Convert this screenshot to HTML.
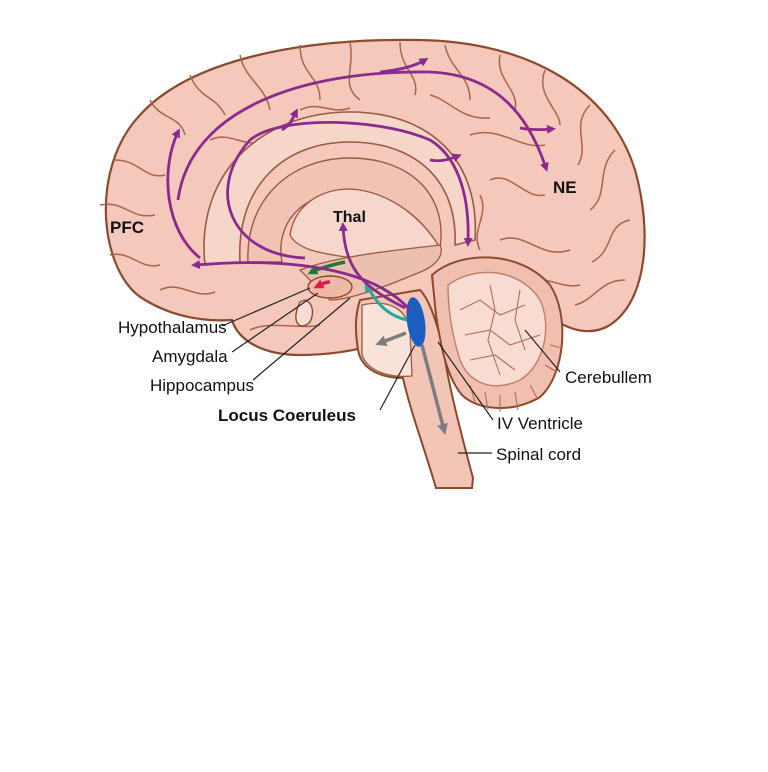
<!DOCTYPE html>
<html><head><meta charset="utf-8"><style>
html,body{margin:0;padding:0;background:#fff;}
svg{display:block;}
text{font-family:"Liberation Sans",Arial,sans-serif;fill:#111;}
</style></head><body>
<svg width="768" height="772" viewBox="0 0 768 772" xmlns="http://www.w3.org/2000/svg">
<defs>
<marker id="ap" markerWidth="9" markerHeight="9" refX="5" refY="4.5" orient="auto" markerUnits="userSpaceOnUse"><path d="M0,0 L9,4.5 L0,9 z" fill="#8a2a8e"/></marker>
<marker id="ag" markerWidth="11" markerHeight="11" refX="6" refY="5.5" orient="auto" markerUnits="userSpaceOnUse"><path d="M0,0 L11,5.5 L0,11 z" fill="#7d7d80"/></marker>
<marker id="agr" markerWidth="10" markerHeight="10" refX="5" refY="5" orient="auto" markerUnits="userSpaceOnUse"><path d="M0,0 L10,5 L0,10 z" fill="#1f7a3a"/></marker>
<marker id="ar" markerWidth="10" markerHeight="10" refX="5" refY="5" orient="auto" markerUnits="userSpaceOnUse"><path d="M0,0 L10,5 L0,10 z" fill="#d8204f"/></marker>
<marker id="at" markerWidth="10" markerHeight="10" refX="5" refY="5" orient="auto" markerUnits="userSpaceOnUse"><path d="M0,0 L10,5 L0,10 z" fill="#2aa89a"/></marker>
</defs>
<!-- cerebrum -->
<path d="M145,300 C100,275 88,170 140,115 C190,60 300,38 420,40 C530,42 610,90 635,170 C652,230 648,300 610,325 C585,340 560,325 540,310 L450,305 C420,335 360,355 300,355 C262,355 238,340 232,320 C200,322 170,315 145,300 Z" fill="#f4c8bb" stroke="#8b4a2e" stroke-width="2.2"/>
<!-- gyri -->
<g fill="none" stroke="#a8644e" stroke-width="1.5">
<path d="M190,75 C200,100 215,95 225,115"/><path d="M240,55 C245,80 265,85 270,110"/>
<path d="M300,45 C300,75 320,75 320,100"/><path d="M350,42 C355,70 340,85 360,100"/>
<path d="M400,42 C400,70 420,75 415,95"/><path d="M445,45 C450,70 470,75 470,100"/>
<path d="M500,55 C495,80 520,90 515,110"/><path d="M545,70 C535,95 560,110 560,125"/>
<path d="M590,105 C570,125 590,145 578,165"/><path d="M615,150 C595,170 610,195 590,210"/>
<path d="M630,220 C605,225 615,250 592,262"/><path d="M625,280 C600,280 595,300 575,305"/>
<path d="M115,160 C140,160 145,180 165,175"/><path d="M100,205 C125,200 130,220 155,215"/>
<path d="M110,255 C130,250 140,270 160,265"/><path d="M150,100 C160,120 180,115 185,135"/>
<path d="M470,135 C500,125 520,150 545,145"/><path d="M490,180 C510,170 525,200 545,195"/>
<path d="M500,240 C525,230 540,260 570,250"/><path d="M520,285 C540,270 560,290 580,285"/>
<path d="M480,250 C470,230 490,215 480,195"/><path d="M430,95 C450,100 460,120 490,118"/>
<path d="M210,140 C230,130 245,150 265,140"/><path d="M300,110 C320,100 330,115 350,108"/>
<path d="M250,330 C270,320 300,330 320,325"/><path d="M160,290 C180,280 195,300 215,292"/>
</g>
<!-- cingulate / corpus callosum -->
<path d="M205,265 C195,170 265,112 350,112 C430,112 480,160 475,240 L455,245 C458,180 415,142 350,142 C285,142 236,185 240,262 Z" fill="#f7d6ca" stroke="#9a5a42" stroke-width="1.6"/>
<path d="M248,262 C245,200 290,158 350,158 C410,158 448,195 440,248 C420,215 390,192 350,192 C300,192 275,225 282,262 Z" fill="#f2c3b5" stroke="#9a5a42" stroke-width="1.4"/>
<path d="M290,235 C295,200 330,185 360,190 C390,195 420,215 440,248 C420,260 400,265 380,262 C340,255 300,255 290,235 Z" fill="#f7d6cb" stroke="#9a5a42" stroke-width="1.3"/>
<!-- fornix band -->
<path d="M300,270 C340,255 400,250 440,245 C445,255 435,265 425,270 C390,285 350,300 330,300 Z" fill="#ecc0b0" stroke="#9a5a42" stroke-width="1.3"/>
<!-- hypothalamus/amygdala -->
<ellipse cx="330" cy="287" rx="22" ry="11" fill="#f0b8a8" stroke="#8b4a2e" stroke-width="1.4"/>
<path d="M300,302 C290,322 300,332 310,322 C315,312 312,302 305,300 Z" fill="#f7ddd4" stroke="#8b4a2e" stroke-width="1.4"/>
<!-- brainstem -->
<path d="M360,300 L420,290 C430,300 440,330 445,360 C450,390 460,430 473,478 L472,488 L436,488 C425,450 410,410 403,378 C385,378 362,372 358,350 C355,330 355,315 360,300 Z" fill="#f3c5b7" stroke="#8b4a2e" stroke-width="2"/>
<path d="M362,305 C385,300 405,305 410,330 L412,376 C390,378 368,372 362,355 Z" fill="#f9e2da" stroke="#9a5a42" stroke-width="1.3"/>
<!-- cerebellum -->
<path d="M432,275 C460,250 520,250 550,285 C570,315 565,375 540,397 C515,412 480,412 462,395 C445,375 440,340 436,315 Z" fill="#f1bfb0" stroke="#8b4a2e" stroke-width="2"/>
<path d="M448,285 C475,265 520,268 540,300 C552,325 545,365 520,380 C495,392 470,385 460,360 C452,335 448,310 448,285 Z" fill="#f8dcd2" stroke="#c07e6a" stroke-width="1.4"/>
<g stroke="#b06d58" stroke-width="1.1" fill="none">
<path d="M460,310 L480,300 L500,315 L525,305"/><path d="M465,335 L490,330 L510,345 L540,335"/><path d="M470,360 L495,355 L515,370"/>
<path d="M490,285 L495,310 L488,340 L500,375"/><path d="M520,290 L515,320 L525,350"/>
<path d="M470,385 L475,402"/><path d="M485,392 L488,410"/><path d="M500,395 L500,412"/><path d="M515,392 L518,410"/><path d="M530,385 L538,400"/><path d="M545,365 L557,372"/><path d="M550,345 L562,348"/>
</g>
<!-- locus coeruleus -->
<ellipse cx="416" cy="322" rx="9" ry="25" fill="#1a5fc0" transform="rotate(-8 416 322)"/>
<!-- gray arrows -->
<path d="M406,333 L380,343" stroke="#7d7d80" stroke-width="3.5" fill="none" marker-end="url(#ag)"/>
<path d="M422,345 L444,430" stroke="#7d7d80" stroke-width="3.5" fill="none" marker-end="url(#ag)"/>
<!-- colored short arrows -->
<path d="M345,262 C335,264 320,268 312,272" stroke="#1f7a3a" stroke-width="3.5" fill="none" marker-end="url(#agr)"/>
<path d="M330,282 C325,282 322,284 318,286" stroke="#d8204f" stroke-width="3.5" fill="none" marker-end="url(#ar)"/>
<path d="M407,320 C385,315 375,300 367,286" stroke="#2aa89a" stroke-width="3" fill="none" marker-end="url(#at)"/>
<!-- purple NE arrows -->
<g stroke="#8a2a8e" stroke-width="2.8" fill="none">
<path d="M410,310 C370,265 280,258 195,265" marker-end="url(#ap)"/>
<path d="M200,258 C165,230 160,170 178,132" marker-end="url(#ap)"/>
<path d="M178,200 C190,110 300,70 430,72 C500,75 530,120 546,168" marker-end="url(#ap)"/>
<path d="M380,72 C400,70 415,66 425,60" marker-end="url(#ap)"/>
<path d="M520,128 C530,130 540,130 552,129" marker-end="url(#ap)"/>
<path d="M305,258 C230,255 205,190 250,140 C280,115 380,118 430,140 C455,155 470,190 468,243" marker-end="url(#ap)"/>
<path d="M282,130 C290,125 292,120 296,112" marker-end="url(#ap)"/>
<path d="M430,160 C440,162 448,160 458,156" marker-end="url(#ap)"/>
<path d="M405,308 C370,290 345,275 343,226" marker-end="url(#ap)"/>
</g>
<!-- leader lines -->
<g stroke="#222" stroke-width="1.2" fill="none">
<path d="M222,326 L310,288"/><path d="M232,352 L318,293"/><path d="M253,380 L350,298"/>
<path d="M380,410 L415,345"/><path d="M560,372 L525,330"/><path d="M493,420 L438,342"/><path d="M492,453 L458,453"/>
</g>
<text x="110" y="233" font-size="17" font-weight="bold">PFC</text>
<text x="333" y="222" font-size="16" font-weight="bold">Thal</text>
<text x="553" y="193" font-size="17" font-weight="bold">NE</text>
<text x="118" y="333" font-size="17">Hypothalamus</text>
<text x="152" y="362" font-size="17">Amygdala</text>
<text x="150" y="391" font-size="17">Hippocampus</text>
<text x="218" y="421" font-size="17" font-weight="bold">Locus Coeruleus</text>
<text x="565" y="383" font-size="17">Cerebullem</text>
<text x="497" y="429" font-size="17">IV Ventricle</text>
<text x="496" y="460" font-size="17">Spinal cord</text>
</svg>
</body></html>
